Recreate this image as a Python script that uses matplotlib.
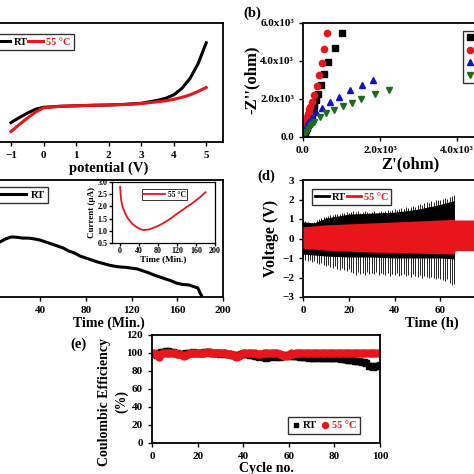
import numpy as np
import matplotlib
matplotlib.use("Agg")
import matplotlib.pyplot as plt

plt.rcParams['font.family'] = ['Liberation Serif', 'DejaVu Serif']
plt.rcParams['font.weight'] = 'bold'
plt.rcParams['axes.labelweight'] = 'bold'
plt.rcParams['axes.linewidth'] = 1.3
plt.rcParams['xtick.major.width'] = 1.0
plt.rcParams['ytick.major.width'] = 1.0
plt.rcParams['xtick.major.size'] = 3
plt.rcParams['ytick.major.size'] = 3
plt.rcParams['xtick.labelsize'] = 8
plt.rcParams['ytick.labelsize'] = 8

# ---------------- data ----------------
# (a) LSV
pot_v = [-1, -0.75, -0.5, -0.25, 0, 0.5, 1, 1.5, 2, 2.5, 3, 3.5, 3.75, 4, 4.25, 4.5, 4.75, 5]
lsv_rt = [1.95, 2.45, 2.9, 3.3, 3.5, 3.6, 3.65, 3.7, 3.73, 3.8, 3.9, 4.2, 4.4, 4.75, 5.4, 6.4, 7.9, 10.0]
lsv_55 = [1.05, 1.75, 2.4, 3.0, 3.45, 3.6, 3.65, 3.7, 3.73, 3.78, 3.88, 4.05, 4.15, 4.3, 4.5, 4.75, 5.1, 5.5]

# (b) Nyquist
eis_k_x = [1005, 831, 658, 554, 468, 398, 338, 286, 250, 225, 195, 165, 135, 105, 80, 55, 35, 15]
eis_k_y = [5500, 4680, 3930, 3330, 2715, 2280, 1930, 1585, 1380, 1150, 980, 800, 640, 480, 350, 230, 130, 50]
eis_r_x = [615, 554, 485, 416, 355, 286, 225, 182, 160, 143, 120, 100, 85, 74, 60, 48, 38, 30, 20, 10]
eis_r_y = [5500, 4630, 3880, 3240, 2660, 2190, 1845, 1585, 1450, 1320, 1190, 1060, 930, 800, 670, 540, 410, 280, 190, 110]
eis_b_x = [1827, 1524, 1221, 944, 701, 485, 338, 225, 139, 100, 69, 45, 28, 12]
eis_b_y = [2976, 2715, 2454, 2123, 1863, 1550, 1323, 1062, 801, 670, 540, 410, 280, 130]
eis_g_x = [2242, 1870, 1506, 1264, 1030, 805, 597, 442, 286, 230, 182, 130, 78, 50, 28, 10]
eis_g_y = [2489, 2245, 2019, 1793, 1619, 1445, 1237, 1062, 801, 690, 574, 420, 278, 190, 110, 40]
eis_labels = ['RT before', '55 \u00b0C before', 'RT after', '55 \u00b0C after']

# (c) chronoamperometry
ca_t = [0, 5, 10, 15, 20, 25, 30, 35, 40, 45, 50, 55, 60, 65, 70, 75, 80, 85, 90, 95, 100,
        105, 110, 115, 120, 125, 130, 135, 140, 145, 150, 155, 160, 165, 170, 175, 178, 180, 181]
ca_rt = [1.33, 1.41, 1.49, 1.54, 1.53, 1.51, 1.51, 1.49, 1.46, 1.41, 1.36, 1.31, 1.26, 1.18,
         1.13, 1.05, 1.0, 0.95, 0.9, 0.86, 0.82, 0.79, 0.77, 0.76, 0.74, 0.72, 0.67, 0.62,
         0.56, 0.51, 0.46, 0.41, 0.35, 0.32, 0.31, 0.26, 0.23, 0.10, 0.05]
ca55_t = [0, 2, 5, 10, 15, 20, 25, 30, 35, 40, 45, 50, 55, 60, 70, 80, 90, 100, 110, 120,
          130, 140, 150, 160, 170, 180]
ca_55 = [2.8, 2.3, 2.0, 1.75, 1.55, 1.42, 1.3, 1.22, 1.15, 1.1, 1.05, 1.03, 1.04, 1.05, 1.12,
         1.2, 1.3, 1.42, 1.55, 1.7, 1.83, 1.97, 2.1, 2.25, 2.4, 2.58]

# (d) galvanostatic cycling (one black spike pair per hour)
gc_rt_up = [0.95, 0.9, 0.85, 0.75, 0.8, 0.85, 0.95, 1.0, 1.05, 1.1, 1.1, 1.15, 1.2, 1.2, 1.25,
            1.25, 1.25, 1.3, 1.3, 1.35, 1.3, 1.35, 1.4, 1.35, 1.4, 1.3, 1.35, 1.4, 1.35, 1.3,
            1.35, 1.4, 1.3, 1.35, 1.4, 1.35, 1.4, 1.45, 1.4, 1.45, 1.5, 1.45, 1.5, 1.55, 1.5,
            1.6, 1.55, 1.6, 1.65, 1.6, 1.7, 1.75, 1.7, 1.8, 1.85, 1.8, 1.9, 1.85, 1.95, 2.0,
            1.95, 2.05, 2.1, 2.05, 2.15, 2.2, 2.25]
gc_rt_dn = [-1.0, -1.1, -1.15, -1.1, -1.2, -1.15, -1.25, -1.3, -1.25, -1.35, -1.4, -1.35,
            -1.45, -1.5, -1.4, -1.55, -1.6, -1.5, -1.6, -1.65, -1.55, -1.7, -1.75, -1.85, -1.7,
            -1.8, -1.75, -1.85, -1.7, -1.8, -1.75, -1.8, -1.7, -1.85, -1.75, -1.8, -1.85, -1.75,
            -1.9, -1.8, -1.85, -1.75, -1.9, -1.85, -1.8, -1.9, -1.85, -1.95, -1.8, -1.9, -1.95,
            -1.85, -2.0, -1.9, -1.95, -2.05, -1.95, -2.0, -2.1, -2.0, -2.1, -2.15, -2.2, -2.1,
            -2.3, -2.4, -2.35]
gc_core_t = [0, 5, 10, 20, 30, 40, 50, 60, 66]
gc_core_hi = [0.85, 0.8, 1.05, 1.25, 1.3, 1.35, 1.5, 1.75, 1.95]
gc_core_lo = [-0.8, -0.85, -0.9, -0.95, -0.95, -1.0, -1.0, -1.0, -1.05]
gc55_t = [0, 5, 10, 20, 30, 40, 50, 60, 66, 66.5, 100]
gc55_up = [0.6, 0.65, 0.7, 0.75, 0.8, 0.85, 0.9, 0.95, 0.98, 0.95, 0.95]
gc55_dn = [-0.5, -0.55, -0.6, -0.65, -0.7, -0.72, -0.75, -0.78, -0.8, -0.62, -0.62]

# (e) coulombic efficiency
ce_rt = [99, 98, 100, 101, 101, 102, 102, 101, 101, 100,
         100, 99, 99, 99, 100, 100, 100, 101, 100, 100,
         100, 100, 101, 101, 101, 100, 100, 100, 100, 99,
         100, 99, 99, 99, 98, 98, 97, 98, 99, 99,
         99, 99, 98, 98, 97, 97, 96, 97, 96, 95,
         96, 96, 97, 97, 96, 96, 97, 98, 98, 98,
         97, 97, 97, 97, 96, 96, 96, 96, 95, 94,
         95, 96, 95, 95, 95, 95, 94, 95, 95, 94,
         94, 94, 93, 93, 93, 92, 92, 92, 91, 91,
         91, 90, 90, 89, 86, 86, 85, 86, 86, 87]
ce_55 = [100, 98, 96, 99, 100, 100, 100, 100, 100, 100,
         99, 99, 98, 97, 98, 99, 100, 100, 100, 100,
         100, 100, 100, 101, 101, 100, 100, 100, 100, 100,
         100, 100, 99, 99, 98, 98, 96, 97, 99, 100,
         100, 100, 100, 100, 100, 99, 99, 99, 100, 100,
         100, 100, 100, 100, 100, 99, 98, 97, 97, 98,
         100, 99, 100, 100, 100, 100, 100, 100, 100, 100,
         100, 100, 100, 100, 100, 100, 100, 100, 100, 100,
         100, 100, 100, 100, 100, 100, 100, 100, 100, 100,
         100, 100, 100, 100, 100, 100, 100, 100, 100, 100]

RED = '#e8161b'
W = 474.0

fig = plt.figure(figsize=(4.74, 4.74), dpi=100)


def rect(l, t, r, b):
    return [l / W, 1 - b / W, (r - l) / W, (b - t) / W]


# ---------------- (a) ----------------
axa = fig.add_axes(rect(-5.3, 23, 222.5, 142))
axa.plot(pot_v, lsv_rt, color='black', lw=2.2, label='RT')
axa.plot(pot_v, lsv_55, color=RED, lw=2.2, label='55 \u00b0C')
axa.set_xlim(-1.5, 5.5)
axa.set_ylim(0, 12)
axa.set_xticks([-1, 0, 1, 2, 3, 4, 5])
axa.set_xlabel('potential (V)', fontsize=10.5, labelpad=1)
axa.set_ylabel('Current (\u03bcA)', fontsize=10)
lg = axa.legend(ncol=2, loc='upper right', bbox_to_anchor=(79 / W, 1 - 29 / W),
                bbox_transform=fig.transFigure, fontsize=7.5, frameon=True, fancybox=False,
                edgecolor='black', handlelength=1.4, handletextpad=0.3, columnspacing=0.1,
                borderpad=0.3, labelcolor=['black', RED])
lg.get_frame().set_linewidth(1.0)

# ---------------- (b) ----------------
axb = fig.add_axes(rect(303, 23, 514.75, 137))
axb.plot(eis_k_x, eis_k_y, 's', color='black', ms=4.5, label=eis_labels[0])
axb.plot(eis_r_x, eis_r_y, 'o', color=RED, ms=4.5, label=eis_labels[1])
axb.plot(eis_b_x, eis_b_y, '^', color='#1010d0', ms=5, label=eis_labels[2])
axb.plot(eis_g_x, eis_g_y, 'v', color='#1a6b1a', ms=5, label=eis_labels[3])
axb.set_xlim(0, 5500)
axb.set_ylim(0, 6000)
axb.set_xticks([0, 2000, 4000], ['0.0', '2.0x10\u00b3', '4.0x10\u00b3'])
axb.set_yticks([0, 2000, 4000, 6000], ['0.0', '2.0x10\u00b3', '4.0x10\u00b3', '6.0x10\u00b3'])
axb.set_xlabel("Z'(ohm)", fontsize=12, labelpad=-1)
axb.xaxis.set_label_coords((410 - 303) / 211.75, -0.17)
axb.set_ylabel("-Z''(ohm)", fontsize=12, labelpad=0)
lgb = axb.legend(loc='upper left', bbox_to_anchor=(458 / W, 1 - 26 / W),
                 bbox_transform=fig.transFigure, fontsize=7, frameon=True, fancybox=False,
                 edgecolor='black', handlelength=0.8, handletextpad=0.4, borderpad=0.3,
                 labelspacing=0.35)
lgb.get_frame().set_linewidth(1.0)
fig.text(243 / W, 1 - 17 / W, '(b)', fontsize=10.5, fontweight='bold')

# ---------------- (c) ----------------
axc = fig.add_axes(rect(-5.75, 180, 223, 297))
axc.plot(ca_t, ca_rt, color='black', lw=2.2, label='RT')
axc.set_xlim(0, 200)
axc.set_ylim(0, 3)
axc.set_xticks([0, 40, 80, 120, 160, 200])
axc.set_xlabel('Time (Min.)', fontsize=10, labelpad=1)
axc.set_ylabel('Current (\u03bcA)', fontsize=10)
lgc = axc.legend(loc='upper right', bbox_to_anchor=(53 / W, 1 - 182 / W),
                 bbox_transform=fig.transFigure, fontsize=7.5, frameon=True, fancybox=False,
                 edgecolor='black', handlelength=3.2, handletextpad=0.4, borderpad=0.3)
lgc.get_frame().set_linewidth(1.0)

axi = fig.add_axes(rect(112, 182, 215, 243))
axi.plot(ca55_t, ca_55, color=RED, lw=1.3, label='55 \u00b0C')
axi.set_xlim(-17, 200)
axi.set_ylim(0.5, 3.0)
axi.set_xticks([0, 40, 80, 120, 160, 200])
axi.set_yticks([0.5, 1.0, 1.5, 2.0, 2.5, 3.0])
axi.tick_params(labelsize=5.8, length=2, pad=1)
for s in axi.spines.values():
    s.set_linewidth(0.9)
axi.set_xlabel('Time (Min.)', fontsize=6.5, labelpad=0)
axi.set_ylabel('Current (\u03bcA)', fontsize=6.5, labelpad=1)
lgi = axi.legend(loc='upper left', bbox_to_anchor=(138 / W, 1 - 185.5 / W),
                 bbox_transform=fig.transFigure, fontsize=5.5, frameon=True, fancybox=False,
                 edgecolor='black', handlelength=2.8, handletextpad=0.4, borderpad=0.2)
lgi.get_frame().set_linewidth(0.7)

# ---------------- (d) ----------------
axd = fig.add_axes(rect(303, 180, 532, 297))
gc_t = np.arange(len(gc_rt_up))
axd.fill_between(gc_core_t, gc_core_lo, gc_core_hi, color='black', lw=0, zorder=1)
axd.vlines(gc_t, gc_rt_dn, gc_rt_up, color='black', lw=0.6, zorder=1.5)
axd.plot([], [], color='black', lw=2, label='RT')
axd.fill_between(gc55_t, gc55_dn, gc55_up, color=RED, lw=0, zorder=3)
axd.plot([], [], color=RED, lw=2, label='55 \u00b0C')
axd.set_xlim(0, 100)
axd.set_ylim(-3, 3)
axd.set_xticks([0, 20, 40, 60, 80])
axd.set_yticks([-3, -2, -1, 0, 1, 2, 3])
axd.set_xlabel('Time (h)', fontsize=10.5, labelpad=1)
axd.xaxis.set_label_coords((432 - 303) / 229, -0.17)
axd.set_ylabel('Voltage (V)', fontsize=11.5, labelpad=2)
lgd = axd.legend(ncol=2, loc='upper left', bbox_to_anchor=(307 / W, 1 - 184 / W),
                 bbox_transform=fig.transFigure, fontsize=7.5, frameon=True, fancybox=False,
                 edgecolor='black', handlelength=1.3, handletextpad=0.3, columnspacing=0.1,
                 borderpad=0.3, labelcolor=['black', RED])
lgd.get_frame().set_linewidth(1.0)
fig.text(257 / W, 1 - 180 / W, '(d)', fontsize=10.5, fontweight='bold')

# ---------------- (e) ----------------
axe = fig.add_axes(rect(152, 335, 380, 443))
cyc = np.arange(1, len(ce_rt) + 1)
axe.plot(cyc, ce_rt, 's', color='black', ms=3.8, label='RT')
axe.plot(cyc, ce_55, 'o', color=RED, ms=5, label='55 \u00b0C')
axe.set_xlim(0, 100)
axe.set_ylim(0, 120)
axe.set_xticks([0, 20, 40, 60, 80, 100])
axe.set_yticks([0, 20, 40, 60, 80, 100, 120])
axe.set_xlabel('Cycle no.', fontsize=10, labelpad=1)
axe.set_ylabel('Coulombic Efficiency\n(%)', fontsize=10, labelpad=2, linespacing=1.3)
axe.yaxis.set_label_coords(-0.105, 0.38)
lge = axe.legend(ncol=2, loc='upper left', bbox_to_anchor=(283 / W, 1 - 412 / W),
                 bbox_transform=fig.transFigure, fontsize=7.5, frameon=True, fancybox=False,
                 edgecolor='black', handlelength=0.8, handletextpad=0.3, columnspacing=0.3,
                 borderpad=0.35, labelcolor=['black', RED], markerscale=0.85)
lge.get_frame().set_linewidth(1.0)
fig.text(70 / W, 1 - 348 / W, '(e)', fontsize=10.5, fontweight='bold')

fig.savefig('out.png', dpi=100)
